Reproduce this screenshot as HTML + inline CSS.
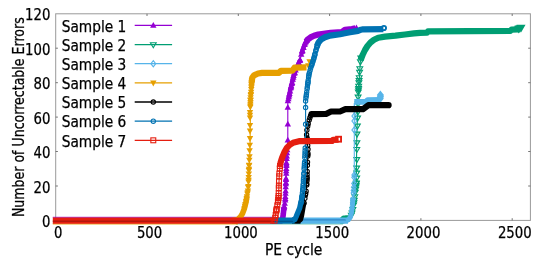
<!DOCTYPE html>
<html><head><meta charset="utf-8"><title>Uncorrectable Errors vs PE cycle</title>
<style>html,body{margin:0;padding:0;background:#fff}svg{display:block}text{stroke:#000;stroke-width:.25px}</style></head>
<body>
<svg width="550" height="267" viewBox="0 0 550 267" style="display:block" font-family='"DejaVu Sans Condensed","DejaVu Sans","Liberation Sans",sans-serif' font-size="15.6" fill="#000">
<rect width="550" height="267" fill="#fff"/>
<rect x="55.7" y="13.8" width="474.7" height="206.6" fill="none" stroke="#999999" stroke-width="1"/>
<path d="M147.0,220.4v-2.2M147.0,13.8v2.2M238.3,220.4v-2.2M238.3,13.8v2.2M329.6,220.4v-2.2M329.6,13.8v2.2M420.9,220.4v-2.2M420.9,13.8v2.2M512.2,220.4v-2.2M512.2,13.8v2.2M55.7,186.0h2.2M530.4,186.0h-2.2M55.7,151.5h2.2M530.4,151.5h-2.2M55.7,117.1h2.2M530.4,117.1h-2.2M55.7,82.7h2.2M530.4,82.7h-2.2M55.7,48.2h2.2M530.4,48.2h-2.2" stroke="#555" stroke-width="0.8" fill="none"/>
<g><polyline points="272.0,220.6 282.5,220.6" fill="none" stroke="#9400D3" stroke-width="6.2" stroke-linecap="butt" stroke-linejoin="round"/>
<polyline points="52.8,217.3 276.0,217.3" fill="none" stroke="#9400D3" stroke-width="1.3" stroke-linecap="butt" stroke-linejoin="round" stroke-opacity="0.75"/>
<polyline points="282.5,220.6 284.5,212.0 285.5,200.0 286.5,160.0 287.8,140.0 287.8,101.0 290.3,90.0 294.0,74.3 300.0,60.0 302.6,50.0 305.0,43.5 307.0,40.5" fill="none" stroke="#9400D3" stroke-width="1.1" stroke-linecap="butt" stroke-linejoin="round"/>
<polyline points="281.2,220.6 282.6,219.0 283.3,214.0 284.0,207.0" fill="none" stroke="#9400D3" stroke-width="5.6" stroke-linecap="butt" stroke-linejoin="round"/>
<path d="M284.0,204.5l3.2,5.8h-6.4z" fill="#9400D3"/>
<path d="M284.2,203.0l3.2,5.8h-6.4z" fill="#9400D3"/>
<path d="M284.7,199.9l3.2,5.8h-6.4z" fill="#9400D3"/>
<path d="M285.2,196.8l3.2,5.8h-6.4z" fill="#9400D3"/>
<path d="M285.3,195.2l3.2,5.8h-6.4z" fill="#9400D3"/>
<path d="M285.3,193.2l3.2,5.8h-6.4z" fill="#9400D3"/>
<path d="M285.5,190.0l3.2,5.8h-6.4z" fill="#9400D3"/>
<path d="M285.6,187.4l3.2,5.8h-6.4z" fill="#9400D3"/>
<path d="M285.7,183.5l3.2,5.8h-6.4z" fill="#9400D3"/>
<path d="M285.8,180.4l3.2,5.8h-6.4z" fill="#9400D3"/>
<path d="M285.9,179.3l3.2,5.8h-6.4z" fill="#9400D3"/>
<path d="M286.0,176.1l3.2,5.8h-6.4z" fill="#9400D3"/>
<path d="M286.0,175.0l3.2,5.8h-6.4z" fill="#9400D3"/>
<path d="M286.2,170.0l3.2,5.8h-6.4z" fill="#9400D3"/>
<path d="M286.2,167.4l3.2,5.8h-6.4z" fill="#9400D3"/>
<path d="M286.3,165.3l3.2,5.8h-6.4z" fill="#9400D3"/>
<path d="M286.4,162.2l3.2,5.8h-6.4z" fill="#9400D3"/>
<path d="M286.4,160.7l3.2,5.8h-6.4z" fill="#9400D3"/>
<path d="M286.4,159.1l3.2,5.8h-6.4z" fill="#9400D3"/>
<path d="M286.6,155.2l3.2,5.8h-6.4z" fill="#9400D3"/>
<path d="M286.8,152.6l3.2,5.8h-6.4z" fill="#9400D3"/>
<path d="M287.0,149.5l3.2,5.8h-6.4z" fill="#9400D3"/>
<path d="M287.2,146.5l3.2,5.8h-6.4z" fill="#9400D3"/>
<path d="M287.8,136.8l3.2,5.8h-6.4z" fill="#9400D3"/>
<path d="M287.8,120.8l3.2,5.8h-6.4z" fill="#9400D3"/>
<path d="M287.8,104.0l3.2,5.8h-6.4z" fill="#9400D3"/>
<path d="M287.9,97.5l3.2,5.8h-6.4z" fill="#9400D3"/>
<polyline points="288.6,98.0 290.3,90.0 294.0,74.3 297.0,67.0 299.8,60.5" fill="none" stroke="#9400D3" stroke-width="4.4" stroke-linecap="butt" stroke-linejoin="round"/>
<path d="M288.4,95.5l3.2,5.8h-6.4z" fill="#9400D3"/>
<path d="M288.8,93.5l3.2,5.8h-6.4z" fill="#9400D3"/>
<path d="M289.2,91.8l3.2,5.8h-6.4z" fill="#9400D3"/>
<path d="M289.5,90.2l3.2,5.8h-6.4z" fill="#9400D3"/>
<path d="M290.1,87.7l3.2,5.8h-6.4z" fill="#9400D3"/>
<path d="M290.8,84.5l3.2,5.8h-6.4z" fill="#9400D3"/>
<path d="M291.0,83.5l3.2,5.8h-6.4z" fill="#9400D3"/>
<path d="M291.2,82.5l3.2,5.8h-6.4z" fill="#9400D3"/>
<path d="M291.8,80.1l3.2,5.8h-6.4z" fill="#9400D3"/>
<path d="M292.1,79.1l3.2,5.8h-6.4z" fill="#9400D3"/>
<path d="M292.8,75.9l3.2,5.8h-6.4z" fill="#9400D3"/>
<path d="M293.3,73.9l3.2,5.8h-6.4z" fill="#9400D3"/>
<path d="M293.6,72.3l3.2,5.8h-6.4z" fill="#9400D3"/>
<path d="M294.4,69.9l3.2,5.8h-6.4z" fill="#9400D3"/>
<path d="M294.7,69.1l3.2,5.8h-6.4z" fill="#9400D3"/>
<path d="M295.6,66.8l3.2,5.8h-6.4z" fill="#9400D3"/>
<path d="M296.9,63.8l3.2,5.8h-6.4z" fill="#9400D3"/>
<path d="M297.2,63.1l3.2,5.8h-6.4z" fill="#9400D3"/>
<path d="M297.6,62.2l3.2,5.8h-6.4z" fill="#9400D3"/>
<path d="M298.8,59.2l3.2,5.8h-6.4z" fill="#9400D3"/>
<path d="M299.7,57.3l3.2,5.8h-6.4z" fill="#9400D3"/>
<path d="M300.0,56.6l3.2,5.8h-6.4z" fill="#9400D3"/>
<path d="M300,56.5l3.2,5.8h-6.4z" fill="#9400D3"/>
<polyline points="301.4,54.0 302.6,50.0 305.0,43.5 306.6,40.6" fill="none" stroke="#9400D3" stroke-width="4.4" stroke-linecap="butt" stroke-linejoin="round"/>
<path d="M301.2,51.0l3.2,5.8h-6.4z" fill="#9400D3"/>
<path d="M302.2,47.9l3.2,5.8h-6.4z" fill="#9400D3"/>
<path d="M302.4,47.2l3.2,5.8h-6.4z" fill="#9400D3"/>
<path d="M303.5,44.1l3.2,5.8h-6.4z" fill="#9400D3"/>
<path d="M304.6,41.1l3.2,5.8h-6.4z" fill="#9400D3"/>
<path d="M305.1,39.8l3.2,5.8h-6.4z" fill="#9400D3"/>
<path d="M305.9,38.4l3.2,5.8h-6.4z" fill="#9400D3"/>
<path d="M306.6,37.1l3.2,5.8h-6.4z" fill="#9400D3"/>
<polyline points="306.2,41.6 307.8,39.4 310.5,37.4 314.0,35.8 318.2,34.6 330.6,32.8 342.0,32.0 345.0,29.8 352.0,29.0 355.5,28.2" fill="none" stroke="#9400D3" stroke-width="6.2" stroke-linecap="butt" stroke-linejoin="round"/>
<path d="M356.4,24.5l3.2,5.8h-6.4z" fill="#9400D3"/></g>
<g><polyline points="340.0,220.6 342.8,220.6 343.6,218.7 349.5,218.5" fill="none" stroke="#009E73" stroke-width="6.2" stroke-linecap="butt" stroke-linejoin="round"/>
<polyline points="236.0,223.9 343.0,223.9" fill="none" stroke="#009E73" stroke-width="1.0" stroke-linecap="butt" stroke-linejoin="round" stroke-opacity="0.7"/>
<polyline points="349.0,218.6 351.0,216.5 352.6,212.0 353.6,206.0 354.6,198.0 355.6,190.0 356.4,182.0 356.7,140.0 358.0,100.0 358.6,90.0 360.5,58.7 363.0,50.0" fill="none" stroke="#009E73" stroke-width="1.1" stroke-linecap="butt" stroke-linejoin="round"/>
<path d="M349.0,221.1l2.9,-5.0h-5.8z" fill="none" stroke="#009E73" stroke-width="1.1"/>
<path d="M351.3,218.4l2.9,-5.0h-5.8z" fill="none" stroke="#009E73" stroke-width="1.1"/>
<path d="M352.0,216.1l2.9,-5.0h-5.8z" fill="none" stroke="#009E73" stroke-width="1.1"/>
<path d="M352.9,212.6l2.9,-5.0h-5.8z" fill="none" stroke="#009E73" stroke-width="1.1"/>
<path d="M353.6,208.1l2.9,-5.0h-5.8z" fill="none" stroke="#009E73" stroke-width="1.1"/>
<path d="M354.0,205.7l2.9,-5.0h-5.8z" fill="none" stroke="#009E73" stroke-width="1.1"/>
<path d="M354.3,203.4l2.9,-5.0h-5.8z" fill="none" stroke="#009E73" stroke-width="1.1"/>
<path d="M354.8,199.8l2.9,-5.0h-5.8z" fill="none" stroke="#009E73" stroke-width="1.1"/>
<path d="M355.3,195.3l2.9,-5.0h-5.8z" fill="none" stroke="#009E73" stroke-width="1.1"/>
<path d="M355.7,192.4l2.9,-5.0h-5.8z" fill="none" stroke="#009E73" stroke-width="1.1"/>
<path d="M356.0,190.0l2.9,-5.0h-5.8z" fill="none" stroke="#009E73" stroke-width="1.1"/>
<path d="M356.1,188.6l2.9,-5.0h-5.8z" fill="none" stroke="#009E73" stroke-width="1.1"/>
<path d="M356.3,186.7l2.9,-5.0h-5.8z" fill="none" stroke="#009E73" stroke-width="1.1"/>
<path d="M356.4,186.1l2.9,-5.0h-5.8z" fill="none" stroke="#009E73" stroke-width="1.1"/>
<path d="M356.7,181.1l2.9,-5.0h-5.8z" fill="none" stroke="#009E73" stroke-width="1.1"/>
<path d="M356.7,176.1l2.9,-5.0h-5.8z" fill="none" stroke="#009E73" stroke-width="1.1"/>
<path d="M356.7,171.1l2.9,-5.0h-5.8z" fill="none" stroke="#009E73" stroke-width="1.1"/>
<path d="M356.8,162.6l2.9,-5.0h-5.8z" fill="none" stroke="#009E73" stroke-width="1.1"/>
<path d="M356.8,152.5l2.9,-5.0h-5.8z" fill="none" stroke="#009E73" stroke-width="1.1"/>
<path d="M356.9,145.9l2.9,-5.0h-5.8z" fill="none" stroke="#009E73" stroke-width="1.1"/>
<path d="M357,137.1l2.9,-5.0h-5.8z" fill="none" stroke="#009E73" stroke-width="1.1"/>
<path d="M357.4,129.1l2.9,-5.0h-5.8z" fill="none" stroke="#009E73" stroke-width="1.1"/>
<path d="M357.6,121.1l2.9,-5.0h-5.8z" fill="none" stroke="#009E73" stroke-width="1.1"/>
<path d="M357.8,115.1l2.9,-5.0h-5.8z" fill="none" stroke="#009E73" stroke-width="1.1"/>
<path d="M358,107.1l2.9,-5.0h-5.8z" fill="none" stroke="#009E73" stroke-width="1.1"/>
<path d="M358.1,100.1l2.9,-5.0h-5.8z" fill="none" stroke="#009E73" stroke-width="1.1"/>
<path d="M358.3,95.1l2.9,-5.0h-5.8z" fill="none" stroke="#009E73" stroke-width="1.1"/>
<path d="M358.5,93.1l2.9,-5.0h-5.8z" fill="none" stroke="#009E73" stroke-width="1.1"/>
<path d="M358.6,91.5l2.9,-5.0h-5.8z" fill="none" stroke="#009E73" stroke-width="1.1"/>
<path d="M358.7,89.3l2.9,-5.0h-5.8z" fill="none" stroke="#009E73" stroke-width="1.1"/>
<path d="M358.9,85.7l2.9,-5.0h-5.8z" fill="none" stroke="#009E73" stroke-width="1.1"/>
<path d="M359.1,83.6l2.9,-5.0h-5.8z" fill="none" stroke="#009E73" stroke-width="1.1"/>
<path d="M359.2,80.7l2.9,-5.0h-5.8z" fill="none" stroke="#009E73" stroke-width="1.1"/>
<path d="M359.6,75.3l2.9,-5.0h-5.8z" fill="none" stroke="#009E73" stroke-width="1.1"/>
<path d="M359.8,71.7l2.9,-5.0h-5.8z" fill="none" stroke="#009E73" stroke-width="1.1"/>
<path d="M360.4,64.9l2.9,-5.0h-5.8z" fill="none" stroke="#009E73" stroke-width="1.1"/>
<path d="M360.8,61.1l2.9,-5.0h-5.8z" fill="none" stroke="#009E73" stroke-width="1.1"/>
<polyline points="360.6,60.0 362.6,55.0 365.0,50.0 367.5,46.0 370.5,42.5 374.0,39.8 378.3,37.7 385.0,36.6 395.5,35.7 405.0,34.5 414.0,33.4 420.0,32.8 427.0,32.6 428.0,31.3 470.0,31.2 510.3,31.0 511.6,29.6 518.0,29.4" fill="none" stroke="#009E73" stroke-width="6.2" stroke-linecap="butt" stroke-linejoin="round"/>
<path d="M518.6,31.7l2.9,-5.0h-5.8z" fill="none" stroke="#009E73" stroke-width="1.9"/>
<path d="M519.8,31.1l2.9,-5.0h-5.8z" fill="none" stroke="#009E73" stroke-width="1.9"/>
<path d="M521.0,30.7l2.9,-5.0h-5.8z" fill="none" stroke="#009E73" stroke-width="1.9"/></g>
<g><polyline points="296.0,220.6 348.0,220.6" fill="none" stroke="#56B4E9" stroke-width="6.4" stroke-linecap="butt" stroke-linejoin="round"/>
<polyline points="296.0,219.8 348.0,219.8" fill="none" stroke="#2F86C8" stroke-width="1.3" stroke-linecap="butt" stroke-linejoin="round"/>
<polyline points="347.0,220.6 350.0,218.5 351.5,212.0 353.0,200.0 354.3,185.0 354.3,103.0" fill="none" stroke="#56B4E9" stroke-width="1.1" stroke-linecap="butt" stroke-linejoin="round"/>
<polyline points="346.0,220.6 348.6,219.6 350.4,217.0 351.4,213.0 352.3,206.0 353.0,198.0" fill="none" stroke="#56B4E9" stroke-width="5.0" stroke-linecap="butt" stroke-linejoin="round"/>
<path d="M353.0,195.9l2.4,3.1l-2.4,3.1l-2.4,-3.1z" fill="none" stroke="#56B4E9" stroke-width="1.1"/>
<path d="M353.5,189.8l2.4,3.1l-2.4,3.1l-2.4,-3.1z" fill="none" stroke="#56B4E9" stroke-width="1.1"/>
<path d="M353.6,187.3l2.4,3.1l-2.4,3.1l-2.4,-3.1z" fill="none" stroke="#56B4E9" stroke-width="1.1"/>
<path d="M353.8,184.1l2.4,3.1l-2.4,3.1l-2.4,-3.1z" fill="none" stroke="#56B4E9" stroke-width="1.1"/>
<path d="M354.1,180.3l2.4,3.1l-2.4,3.1l-2.4,-3.1z" fill="none" stroke="#56B4E9" stroke-width="1.1"/>
<path d="M354.2,174.2l2.4,3.1l-2.4,3.1l-2.4,-3.1z" fill="none" stroke="#56B4E9" stroke-width="1.1"/>
<path d="M354.3,171.9l2.4,3.1l-2.4,3.1l-2.4,-3.1z" fill="none" stroke="#56B4E9" stroke-width="1.1"/>
<path d="M354.3,126.9l2.4,3.1l-2.4,3.1l-2.4,-3.1z" fill="none" stroke="#56B4E9" stroke-width="1.1"/>
<path d="M354.3,117.9l2.4,3.1l-2.4,3.1l-2.4,-3.1z" fill="none" stroke="#56B4E9" stroke-width="1.1"/>
<path d="M354.3,112.9l2.4,3.1l-2.4,3.1l-2.4,-3.1z" fill="none" stroke="#56B4E9" stroke-width="1.1"/>
<path d="M354.3,105.9l2.4,3.1l-2.4,3.1l-2.4,-3.1z" fill="none" stroke="#56B4E9" stroke-width="1.1"/>
<polyline points="354.3,101.9 365.8,101.8 367.6,100.2 380.0,100.0" fill="none" stroke="#56B4E9" stroke-width="5.8" stroke-linecap="butt" stroke-linejoin="round"/>
<path d="M380.2,95.5l2.4,3.1l-2.4,3.1l-2.4,-3.1z" fill="none" stroke="#56B4E9" stroke-width="1.9"/>
<path d="M380.4,93.7l2.4,3.1l-2.4,3.1l-2.4,-3.1z" fill="none" stroke="#56B4E9" stroke-width="1.9"/>
<path d="M380.4,92.0l2.4,3.1l-2.4,3.1l-2.4,-3.1z" fill="none" stroke="#56B4E9" stroke-width="1.9"/></g>
<g><polyline points="232.0,220.6 237.0,220.6" fill="none" stroke="#E69F00" stroke-width="6.2" stroke-linecap="butt" stroke-linejoin="round"/>
<polyline points="52.8,223.8 238.0,223.8" fill="none" stroke="#E69F00" stroke-width="1.2" stroke-linecap="butt" stroke-linejoin="round" stroke-opacity="0.9"/>
<polyline points="237.0,220.6 241.0,216.0 244.3,208.7 246.5,200.0 248.0,190.0 249.0,170.0 250.0,150.0 250.6,100.0 250.9,80.0" fill="none" stroke="#E69F00" stroke-width="1.1" stroke-linecap="butt" stroke-linejoin="round"/>
<polyline points="235.5,220.6 238.5,218.8 240.6,216.6 242.5,213.5 244.3,208.7 246.0,202.0 247.0,196.0" fill="none" stroke="#E69F00" stroke-width="5.6" stroke-linecap="butt" stroke-linejoin="round"/>
<path d="M244.3,212.2l3.2,-5.8h-6.4z" fill="#E69F00"/>
<path d="M245.0,209.5l3.2,-5.8h-6.4z" fill="#E69F00"/>
<path d="M245.4,207.7l3.2,-5.8h-6.4z" fill="#E69F00"/>
<path d="M246.1,205.1l3.2,-5.8h-6.4z" fill="#E69F00"/>
<path d="M246.6,202.3l3.2,-5.8h-6.4z" fill="#E69F00"/>
<path d="M247.0,200.1l3.2,-5.8h-6.4z" fill="#E69F00"/>
<path d="M247.4,197.4l3.2,-5.8h-6.4z" fill="#E69F00"/>
<path d="M247.6,196.0l3.2,-5.8h-6.4z" fill="#E69F00"/>
<path d="M247.9,194.2l3.2,-5.8h-6.4z" fill="#E69F00"/>
<path d="M248.2,190.7l3.2,-5.8h-6.4z" fill="#E69F00"/>
<path d="M248.3,189.7l3.2,-5.8h-6.4z" fill="#E69F00"/>
<path d="M248.5,185.3l3.2,-5.8h-6.4z" fill="#E69F00"/>
<path d="M248.6,183.5l3.2,-5.8h-6.4z" fill="#E69F00"/>
<path d="M248.7,180.7l3.2,-5.8h-6.4z" fill="#E69F00"/>
<path d="M248.8,177.3l3.2,-5.8h-6.4z" fill="#E69F00"/>
<path d="M248.9,173.9l3.2,-5.8h-6.4z" fill="#E69F00"/>
<path d="M249.0,172.5l3.2,-5.8h-6.4z" fill="#E69F00"/>
<path d="M249.1,169.0l3.2,-5.8h-6.4z" fill="#E69F00"/>
<path d="M249.1,168.5l3.2,-5.8h-6.4z" fill="#E69F00"/>
<path d="M249.3,163.5l3.2,-5.8h-6.4z" fill="#E69F00"/>
<path d="M249.5,160.0l3.2,-5.8h-6.4z" fill="#E69F00"/>
<path d="M249.6,154.0l3.2,-5.8h-6.4z" fill="#E69F00"/>
<path d="M249.8,148.5l3.2,-5.8h-6.4z" fill="#E69F00"/>
<path d="M250,141.9l3.2,-5.8h-6.4z" fill="#E69F00"/>
<path d="M250,134.4l3.2,-5.8h-6.4z" fill="#E69F00"/>
<path d="M250,128.8l3.2,-5.8h-6.4z" fill="#E69F00"/>
<path d="M250,121.3l3.2,-5.8h-6.4z" fill="#E69F00"/>
<path d="M250,118.5l3.2,-5.8h-6.4z" fill="#E69F00"/>
<path d="M250,115.7l3.2,-5.8h-6.4z" fill="#E69F00"/>
<path d="M250.3,110.5l3.2,-5.8h-6.4z" fill="#E69F00"/>
<path d="M250.3,109.3l3.2,-5.8h-6.4z" fill="#E69F00"/>
<path d="M250.4,107.5l3.2,-5.8h-6.4z" fill="#E69F00"/>
<path d="M250.5,105.7l3.2,-5.8h-6.4z" fill="#E69F00"/>
<path d="M250.5,103.9l3.2,-5.8h-6.4z" fill="#E69F00"/>
<path d="M250.5,103.2l3.2,-5.8h-6.4z" fill="#E69F00"/>
<path d="M250.6,101.0l3.2,-5.8h-6.4z" fill="#E69F00"/>
<path d="M250.8,98.7l3.2,-5.8h-6.4z" fill="#E69F00"/>
<path d="M250.9,97.8l3.2,-5.8h-6.4z" fill="#E69F00"/>
<path d="M251.1,95.6l3.2,-5.8h-6.4z" fill="#E69F00"/>
<path d="M251.3,92.8l3.2,-5.8h-6.4z" fill="#E69F00"/>
<path d="M251.4,91.0l3.2,-5.8h-6.4z" fill="#E69F00"/>
<path d="M251.5,89.8l3.2,-5.8h-6.4z" fill="#E69F00"/>
<path d="M251.6,88.6l3.2,-5.8h-6.4z" fill="#E69F00"/>
<path d="M251.6,87.9l3.2,-5.8h-6.4z" fill="#E69F00"/>
<path d="M251.6,87.2l3.2,-5.8h-6.4z" fill="#E69F00"/>
<path d="M251.7,85.7l3.2,-5.8h-6.4z" fill="#E69F00"/>
<path d="M251.8,84.5l3.2,-5.8h-6.4z" fill="#E69F00"/>
<polyline points="251.8,82.0 252.2,77.8 254.0,75.3 258.0,73.5 262.0,72.9 279.0,72.8 281.0,70.8 292.5,70.6 294.5,67.7 306.5,67.3" fill="none" stroke="#E69F00" stroke-width="6.2" stroke-linecap="butt" stroke-linejoin="round"/>
<path d="M308.3,69.1l3.2,-5.8h-6.4z" fill="#E69F00"/>
<path d="M309.6,65.1l3.2,-5.8h-6.4z" fill="#E69F00"/></g>
<g><polyline points="292.0,220.6 300.5,220.6" fill="none" stroke="#000000" stroke-width="6.2" stroke-linecap="butt" stroke-linejoin="round"/>
<polyline points="300.0,220.6 301.2,216.0 302.7,208.0 304.3,200.0 306.3,190.0 307.0,180.0 308.0,150.0 306.5,133.0 311.0,114.5" fill="none" stroke="#000000" stroke-width="1.1" stroke-linecap="butt" stroke-linejoin="round"/>
<polyline points="298.5,220.6 300.4,219.4 301.4,216.0 302.8,208.0 304.0,202.0" fill="none" stroke="#000000" stroke-width="5.4" stroke-linecap="butt" stroke-linejoin="round"/>
<circle cx="304.0" cy="203.0" r="2.15" fill="none" stroke="#000000" stroke-width="1.1"/>
<circle cx="304.9" cy="198.3" r="2.15" fill="none" stroke="#000000" stroke-width="1.1"/>
<circle cx="305.4" cy="195.1" r="2.15" fill="none" stroke="#000000" stroke-width="1.1"/>
<circle cx="305.7" cy="193.7" r="2.15" fill="none" stroke="#000000" stroke-width="1.1"/>
<circle cx="306.1" cy="191.2" r="2.15" fill="none" stroke="#000000" stroke-width="1.1"/>
<circle cx="306.7" cy="185.1" r="2.15" fill="none" stroke="#000000" stroke-width="1.1"/>
<circle cx="306.8" cy="183.7" r="2.15" fill="none" stroke="#000000" stroke-width="1.1"/>
<circle cx="307.0" cy="180.5" r="2.15" fill="none" stroke="#000000" stroke-width="1.1"/>
<circle cx="307.0" cy="178.6" r="2.15" fill="none" stroke="#000000" stroke-width="1.1"/>
<circle cx="307.1" cy="177.2" r="2.15" fill="none" stroke="#000000" stroke-width="1.1"/>
<circle cx="307.1" cy="174.6" r="2.15" fill="none" stroke="#000000" stroke-width="1.1"/>
<circle cx="307.2" cy="171.4" r="2.15" fill="none" stroke="#000000" stroke-width="1.1"/>
<circle cx="307.4" cy="165.3" r="2.15" fill="none" stroke="#000000" stroke-width="1.1"/>
<circle cx="307.5" cy="162.1" r="2.15" fill="none" stroke="#000000" stroke-width="1.1"/>
<circle cx="307.8" cy="156.0" r="2.15" fill="none" stroke="#000000" stroke-width="1.1"/>
<circle cx="307.8" cy="154.6" r="2.15" fill="none" stroke="#000000" stroke-width="1.1"/>
<circle cx="307.9" cy="153.2" r="2.15" fill="none" stroke="#000000" stroke-width="1.1"/>
<circle cx="308.0" cy="149.3" r="2.15" fill="none" stroke="#000000" stroke-width="1.1"/>
<circle cx="307.7" cy="145.5" r="2.15" fill="none" stroke="#000000" stroke-width="1.1"/>
<circle cx="307.2" cy="139.4" r="2.15" fill="none" stroke="#000000" stroke-width="1.1"/>
<circle cx="307.1" cy="138.0" r="2.15" fill="none" stroke="#000000" stroke-width="1.1"/>
<circle cx="306.6" cy="134.8" r="2.15" fill="none" stroke="#000000" stroke-width="1.1"/>
<circle cx="306.9" cy="130.1" r="2.15" fill="none" stroke="#000000" stroke-width="1.1"/>
<circle cx="307.7" cy="126.3" r="2.15" fill="none" stroke="#000000" stroke-width="1.1"/>
<circle cx="308.2" cy="123.8" r="2.15" fill="none" stroke="#000000" stroke-width="1.1"/>
<circle cx="309.2" cy="120.1" r="2.15" fill="none" stroke="#000000" stroke-width="1.1"/>
<circle cx="309.9" cy="117.7" r="2.15" fill="none" stroke="#000000" stroke-width="1.1"/>
<circle cx="310.6" cy="115.6" r="2.15" fill="none" stroke="#000000" stroke-width="1.1"/>
<polyline points="311.6,114.2 326.0,114.0 331.0,111.5 340.0,111.5 345.4,109.2 362.9,109.2 368.3,105.2 388.6,105.2" fill="none" stroke="#000000" stroke-width="6.2" stroke-linecap="round" stroke-linejoin="round"/></g>
<g><polyline points="270.0,220.6 294.5,220.6" fill="none" stroke="#0072B2" stroke-width="6.2" stroke-linecap="butt" stroke-linejoin="round"/>
<polyline points="274.0,221.4 294.5,221.4" fill="none" stroke="#004F86" stroke-width="1.4" stroke-linecap="butt" stroke-linejoin="round" stroke-opacity="0.8"/>
<polyline points="294.0,220.6 296.0,217.0 299.7,208.0 301.3,200.0 303.0,190.0 305.2,150.0 305.6,130.0 305.6,100.0 307.0,90.0 309.0,74.3 313.6,59.4 316.0,50.0" fill="none" stroke="#0072B2" stroke-width="1.1" stroke-linecap="butt" stroke-linejoin="round"/>
<polyline points="292.5,220.6 294.8,219.6 296.2,216.5 299.7,208.0 301.0,202.0" fill="none" stroke="#0072B2" stroke-width="5.4" stroke-linecap="butt" stroke-linejoin="round"/>
<circle cx="301.0" cy="203.0" r="2.15" fill="none" stroke="#0072B2" stroke-width="1.1"/>
<circle cx="301.2" cy="201.6" r="2.15" fill="none" stroke="#0072B2" stroke-width="1.1"/>
<circle cx="301.4" cy="200.6" r="2.15" fill="none" stroke="#0072B2" stroke-width="1.1"/>
<circle cx="301.6" cy="198.8" r="2.15" fill="none" stroke="#0072B2" stroke-width="1.1"/>
<circle cx="301.8" cy="197.8" r="2.15" fill="none" stroke="#0072B2" stroke-width="1.1"/>
<circle cx="301.9" cy="196.7" r="2.15" fill="none" stroke="#0072B2" stroke-width="1.1"/>
<circle cx="302.1" cy="195.7" r="2.15" fill="none" stroke="#0072B2" stroke-width="1.1"/>
<circle cx="302.4" cy="193.0" r="2.15" fill="none" stroke="#0072B2" stroke-width="1.1"/>
<circle cx="302.7" cy="190.2" r="2.15" fill="none" stroke="#0072B2" stroke-width="1.1"/>
<circle cx="302.9" cy="189.2" r="2.15" fill="none" stroke="#0072B2" stroke-width="1.1"/>
<circle cx="303.0" cy="187.8" r="2.15" fill="none" stroke="#0072B2" stroke-width="1.1"/>
<circle cx="303.1" cy="185.5" r="2.15" fill="none" stroke="#0072B2" stroke-width="1.1"/>
<circle cx="303.3" cy="183.7" r="2.15" fill="none" stroke="#0072B2" stroke-width="1.1"/>
<circle cx="303.4" cy="181.0" r="2.15" fill="none" stroke="#0072B2" stroke-width="1.1"/>
<circle cx="303.5" cy="179.1" r="2.15" fill="none" stroke="#0072B2" stroke-width="1.1"/>
<circle cx="303.6" cy="177.7" r="2.15" fill="none" stroke="#0072B2" stroke-width="1.1"/>
<circle cx="303.8" cy="174.3" r="2.15" fill="none" stroke="#0072B2" stroke-width="1.1"/>
<circle cx="303.9" cy="173.3" r="2.15" fill="none" stroke="#0072B2" stroke-width="1.1"/>
<circle cx="304.1" cy="168.9" r="2.15" fill="none" stroke="#0072B2" stroke-width="1.1"/>
<circle cx="304.3" cy="167.1" r="2.15" fill="none" stroke="#0072B2" stroke-width="1.1"/>
<circle cx="304.4" cy="165.2" r="2.15" fill="none" stroke="#0072B2" stroke-width="1.1"/>
<circle cx="304.5" cy="163.4" r="2.15" fill="none" stroke="#0072B2" stroke-width="1.1"/>
<circle cx="304.6" cy="162.0" r="2.15" fill="none" stroke="#0072B2" stroke-width="1.1"/>
<circle cx="304.8" cy="157.6" r="2.15" fill="none" stroke="#0072B2" stroke-width="1.1"/>
<circle cx="304.9" cy="155.4" r="2.15" fill="none" stroke="#0072B2" stroke-width="1.1"/>
<circle cx="305.0" cy="153.1" r="2.15" fill="none" stroke="#0072B2" stroke-width="1.1"/>
<circle cx="305.1" cy="150.8" r="2.15" fill="none" stroke="#0072B2" stroke-width="1.1"/>
<circle cx="305.2" cy="148" r="2.15" fill="none" stroke="#0072B2" stroke-width="1.1"/>
<circle cx="305.6" cy="124.3" r="2.15" fill="none" stroke="#0072B2" stroke-width="1.1"/>
<circle cx="305.6" cy="107.5" r="2.15" fill="none" stroke="#0072B2" stroke-width="1.1"/>
<circle cx="305.6" cy="101" r="2.15" fill="none" stroke="#0072B2" stroke-width="1.1"/>
<circle cx="305.9" cy="98.0" r="2.15" fill="none" stroke="#0072B2" stroke-width="1.1"/>
<circle cx="306.2" cy="96.1" r="2.15" fill="none" stroke="#0072B2" stroke-width="1.1"/>
<circle cx="306.4" cy="94.5" r="2.15" fill="none" stroke="#0072B2" stroke-width="1.1"/>
<circle cx="306.7" cy="92.1" r="2.15" fill="none" stroke="#0072B2" stroke-width="1.1"/>
<circle cx="307.1" cy="89.1" r="2.15" fill="none" stroke="#0072B2" stroke-width="1.1"/>
<circle cx="307.3" cy="87.2" r="2.15" fill="none" stroke="#0072B2" stroke-width="1.1"/>
<circle cx="307.6" cy="84.8" r="2.15" fill="none" stroke="#0072B2" stroke-width="1.1"/>
<circle cx="307.9" cy="82.9" r="2.15" fill="none" stroke="#0072B2" stroke-width="1.1"/>
<circle cx="308.0" cy="82.2" r="2.15" fill="none" stroke="#0072B2" stroke-width="1.1"/>
<circle cx="308.2" cy="80.3" r="2.15" fill="none" stroke="#0072B2" stroke-width="1.1"/>
<circle cx="308.6" cy="77.3" r="2.15" fill="none" stroke="#0072B2" stroke-width="1.1"/>
<circle cx="308.9" cy="75.4" r="2.15" fill="none" stroke="#0072B2" stroke-width="1.1"/>
<circle cx="309.0" cy="74.1" r="2.15" fill="none" stroke="#0072B2" stroke-width="1.1"/>
<circle cx="309.5" cy="72.6" r="2.15" fill="none" stroke="#0072B2" stroke-width="1.1"/>
<circle cx="310.1" cy="70.3" r="2.15" fill="none" stroke="#0072B2" stroke-width="1.1"/>
<circle cx="310.7" cy="68.0" r="2.15" fill="none" stroke="#0072B2" stroke-width="1.1"/>
<circle cx="311.5" cy="65.7" r="2.15" fill="none" stroke="#0072B2" stroke-width="1.1"/>
<circle cx="311.8" cy="64.8" r="2.15" fill="none" stroke="#0072B2" stroke-width="1.1"/>
<circle cx="312.2" cy="63.5" r="2.15" fill="none" stroke="#0072B2" stroke-width="1.1"/>
<circle cx="312.7" cy="62.0" r="2.15" fill="none" stroke="#0072B2" stroke-width="1.1"/>
<circle cx="313.1" cy="60.8" r="2.15" fill="none" stroke="#0072B2" stroke-width="1.1"/>
<circle cx="313.7" cy="59.0" r="2.15" fill="none" stroke="#0072B2" stroke-width="1.1"/>
<circle cx="314.0" cy="57.8" r="2.15" fill="none" stroke="#0072B2" stroke-width="1.1"/>
<circle cx="314.5" cy="55.9" r="2.15" fill="none" stroke="#0072B2" stroke-width="1.1"/>
<circle cx="314.8" cy="54.7" r="2.15" fill="none" stroke="#0072B2" stroke-width="1.1"/>
<circle cx="315.0" cy="54.0" r="2.15" fill="none" stroke="#0072B2" stroke-width="1.1"/>
<circle cx="315.7" cy="51.0" r="2.15" fill="none" stroke="#0072B2" stroke-width="1.1"/>
<circle cx="316.2" cy="49.5" r="2.15" fill="none" stroke="#0072B2" stroke-width="1.1"/>
<circle cx="316.7" cy="47.6" r="2.15" fill="none" stroke="#0072B2" stroke-width="1.1"/>
<circle cx="317.1" cy="46.4" r="2.15" fill="none" stroke="#0072B2" stroke-width="1.1"/>
<circle cx="317.3" cy="45.7" r="2.15" fill="none" stroke="#0072B2" stroke-width="1.1"/>
<circle cx="317.5" cy="45" r="2.15" fill="none" stroke="#0072B2" stroke-width="1.1"/>
<polyline points="317.0,46.0 318.5,42.4 321.0,39.4 325.0,37.3 330.0,35.6 340.0,34.3 343.5,33.5 350.0,32.3 358.0,30.9 361.0,29.7 363.0,29.3 383.4,29.2" fill="none" stroke="#0072B2" stroke-width="6.2" stroke-linecap="butt" stroke-linejoin="round"/>
<circle cx="383.9" cy="28.0" r="2.15" fill="none" stroke="#0072B2" stroke-width="1.9"/></g>
<g><polyline points="52.8,220.6 274.5,220.6" fill="none" stroke="#E51E10" stroke-width="6.2" stroke-linecap="butt" stroke-linejoin="round"/>
<polyline points="52.8,221.2 274.5,221.2" fill="none" stroke="#A8140B" stroke-width="1.5" stroke-linecap="butt" stroke-linejoin="round" stroke-opacity="0.8"/>
<polyline points="274.5,220.6 276.0,212.0 277.5,205.0 278.6,198.0 278.9,185.0 279.3,175.0 280.0,165.0 282.0,158.0" fill="none" stroke="#E51E10" stroke-width="1.1" stroke-linecap="butt" stroke-linejoin="round"/>
<rect x="272.05" y="218.15" width="4.9" height="4.9" fill="none" stroke="#E51E10" stroke-width="1.1"/>
<rect x="272.75" y="215.35" width="4.9" height="4.9" fill="none" stroke="#E51E10" stroke-width="1.1"/>
<rect x="273.25" y="212.55" width="4.9" height="4.9" fill="none" stroke="#E51E10" stroke-width="1.1"/>
<rect x="273.75" y="208.95" width="4.9" height="4.9" fill="none" stroke="#E51E10" stroke-width="1.1"/>
<rect x="274.05" y="207.55" width="4.9" height="4.9" fill="none" stroke="#E51E10" stroke-width="1.1"/>
<rect x="274.25" y="206.45" width="4.9" height="4.9" fill="none" stroke="#E51E10" stroke-width="1.1"/>
<rect x="274.85" y="202.95" width="4.9" height="4.9" fill="none" stroke="#E51E10" stroke-width="1.1"/>
<rect x="275.45" y="199.35" width="4.9" height="4.9" fill="none" stroke="#E51E10" stroke-width="1.1"/>
<rect x="275.75" y="197.45" width="4.9" height="4.9" fill="none" stroke="#E51E10" stroke-width="1.1"/>
<rect x="276.05" y="195.55" width="4.9" height="4.9" fill="none" stroke="#E51E10" stroke-width="1.1"/>
<rect x="276.15" y="193.55" width="4.9" height="4.9" fill="none" stroke="#E51E10" stroke-width="1.1"/>
<rect x="276.25" y="190.85" width="4.9" height="4.9" fill="none" stroke="#E51E10" stroke-width="1.1"/>
<rect x="276.35" y="185.75" width="4.9" height="4.9" fill="none" stroke="#E51E10" stroke-width="1.1"/>
<rect x="276.45" y="183.05" width="4.9" height="4.9" fill="none" stroke="#E51E10" stroke-width="1.1"/>
<rect x="276.55" y="178.95" width="4.9" height="4.9" fill="none" stroke="#E51E10" stroke-width="1.1"/>
<rect x="276.75" y="173.85" width="4.9" height="4.9" fill="none" stroke="#E51E10" stroke-width="1.1"/>
<rect x="276.95" y="171.15" width="4.9" height="4.9" fill="none" stroke="#E51E10" stroke-width="1.1"/>
<rect x="277.35" y="166.05" width="4.9" height="4.9" fill="none" stroke="#E51E10" stroke-width="1.1"/>
<rect x="277.55" y="163.55" width="4.9" height="4.9" fill="none" stroke="#E51E10" stroke-width="1.1"/>
<polyline points="279.8,167.0 280.6,162.5 282.0,158.0 284.3,152.3 287.0,147.6 290.0,144.6 293.0,142.8 299.0,141.2 332.0,141.0 333.2,139.8 338.6,139.6" fill="none" stroke="#E51E10" stroke-width="6.2" stroke-linecap="butt" stroke-linejoin="round"/>
<rect x="336.15" y="136.75" width="4.9" height="4.9" fill="none" stroke="#E51E10" stroke-width="1.9"/></g>
<text x="42.0" y="227.0" textLength="8.4" lengthAdjust="spacingAndGlyphs">0</text>
<text x="33.5" y="192.6" textLength="16.9" lengthAdjust="spacingAndGlyphs">20</text>
<text x="33.5" y="158.1" textLength="16.9" lengthAdjust="spacingAndGlyphs">40</text>
<text x="33.5" y="123.7" textLength="16.9" lengthAdjust="spacingAndGlyphs">60</text>
<text x="33.5" y="89.3" textLength="16.9" lengthAdjust="spacingAndGlyphs">80</text>
<text x="25.1" y="54.8" textLength="25.3" lengthAdjust="spacingAndGlyphs">100</text>
<text x="25.1" y="20.4" textLength="25.3" lengthAdjust="spacingAndGlyphs">120</text>
<text x="54.1" y="237.8" textLength="8.4" lengthAdjust="spacingAndGlyphs">0</text>
<text x="136.9" y="237.8" textLength="25.3" lengthAdjust="spacingAndGlyphs">500</text>
<text x="224.0" y="237.8" textLength="33.8" lengthAdjust="spacingAndGlyphs">1000</text>
<text x="315.3" y="237.8" textLength="33.8" lengthAdjust="spacingAndGlyphs">1500</text>
<text x="406.6" y="237.8" textLength="33.8" lengthAdjust="spacingAndGlyphs">2000</text>
<text x="497.9" y="237.8" textLength="33.8" lengthAdjust="spacingAndGlyphs">2500</text>
<text x="293.6" y="255.4" text-anchor="middle" textLength="57.4" lengthAdjust="spacingAndGlyphs">PE cycle</text>
<text transform="translate(24.0,217.1) rotate(-90)" textLength="199.8" lengthAdjust="spacingAndGlyphs">Number of Uncorrectable Errors</text>
<text x="61.7" y="31.6" textLength="64.6" lengthAdjust="spacingAndGlyphs">Sample 1</text>
<path d="M134.7,25.4H172.1" stroke="#9400D3" stroke-width="1.3"/>
<path d="M153.3,21.9l3.2,5.8h-6.4z" fill="#9400D3"/>
<text x="61.7" y="50.8" textLength="64.6" lengthAdjust="spacingAndGlyphs">Sample 2</text>
<path d="M134.7,44.6H172.1" stroke="#009E73" stroke-width="1.3"/>
<path d="M153.3,47.7l2.9,-5.0h-5.8z" fill="none" stroke="#009E73" stroke-width="1.1"/>
<text x="61.7" y="69.9" textLength="64.6" lengthAdjust="spacingAndGlyphs">Sample 3</text>
<path d="M134.7,63.7H172.1" stroke="#56B4E9" stroke-width="1.3"/>
<path d="M153.3,60.6l2.4,3.1l-2.4,3.1l-2.4,-3.1z" fill="none" stroke="#56B4E9" stroke-width="1.1"/>
<text x="61.7" y="89.1" textLength="64.6" lengthAdjust="spacingAndGlyphs">Sample 4</text>
<path d="M134.7,82.9H172.1" stroke="#E69F00" stroke-width="1.3"/>
<path d="M153.3,86.4l3.2,-5.8h-6.4z" fill="#E69F00"/>
<text x="61.7" y="108.2" textLength="64.6" lengthAdjust="spacingAndGlyphs">Sample 5</text>
<path d="M134.7,102.0H172.1" stroke="#000000" stroke-width="1.3"/>
<circle cx="153.3" cy="102.0" r="2.15" fill="none" stroke="#000000" stroke-width="1.1"/>
<text x="61.7" y="127.4" textLength="64.6" lengthAdjust="spacingAndGlyphs">Sample 6</text>
<path d="M134.7,121.2H172.1" stroke="#0072B2" stroke-width="1.3"/>
<circle cx="153.3" cy="121.2" r="2.15" fill="none" stroke="#0072B2" stroke-width="1.1"/>
<text x="61.7" y="146.5" textLength="64.6" lengthAdjust="spacingAndGlyphs">Sample 7</text>
<path d="M134.7,140.3H172.1" stroke="#E51E10" stroke-width="1.3"/>
<rect x="150.85" y="137.85" width="4.9" height="4.9" fill="none" stroke="#E51E10" stroke-width="1.1"/>
</svg>
</body></html>
